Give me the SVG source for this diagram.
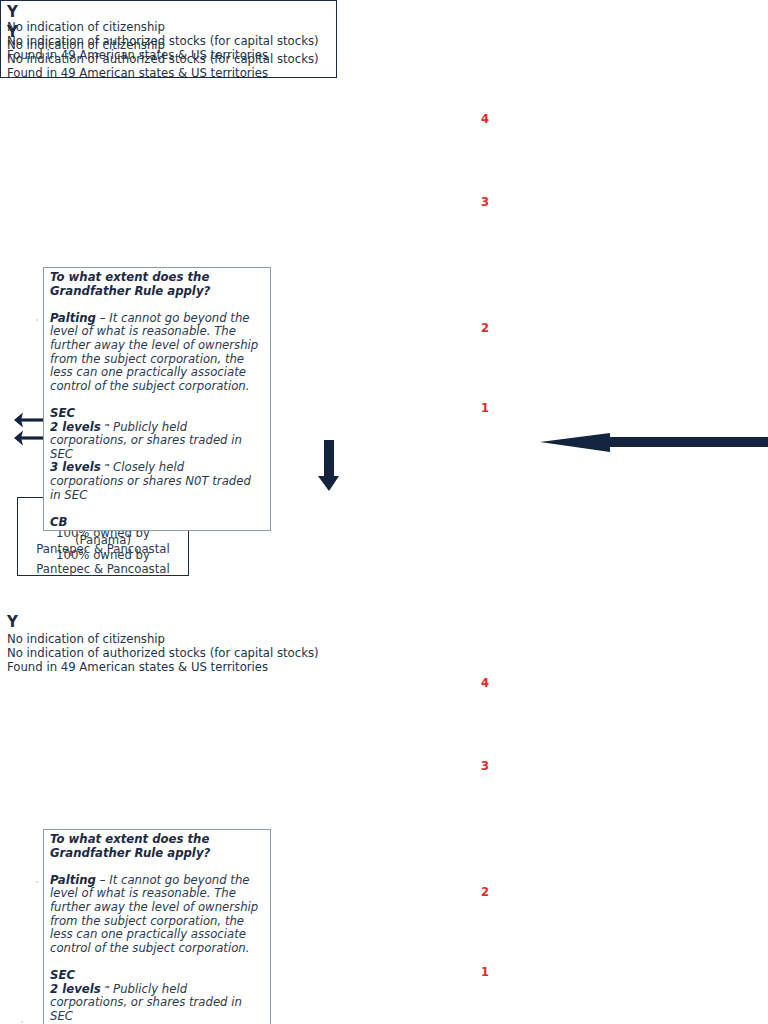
<svg xmlns="http://www.w3.org/2000/svg" width="768" height="1024" viewBox="0 0 768 1024">
<style>
.t{font-family:"DejaVu Sans",Verdana,sans-serif;font-size:11.7px;fill:#22324a}
.y{font-family:"DejaVu Sans",Verdana,sans-serif;font-size:15px;font-weight:bold;fill:#1b2a44}
.c{font-family:"DejaVu Sans",Verdana,sans-serif;font-size:11.7px;font-style:italic;fill:#2a3a50}
.b{font-weight:bold;fill:#1b2a44}
.s{font-size:6px;font-style:normal;font-weight:bold}
.r{font-family:"DejaVu Sans",Verdana,sans-serif;font-size:11.5px;font-weight:bold;fill:#e8262b;text-anchor:middle}
.m{font-family:"DejaVu Sans",Verdana,sans-serif;font-size:11.7px;fill:#2b3a4e;text-anchor:middle}
.box{fill:#fff;stroke:#1b2a44;stroke-width:1}
.call{fill:#fff;stroke:#8a9aa8;stroke-width:1}
.ar{fill:#13243f}
.al{stroke:#13243f;stroke-width:3.2;fill:none}
</style>
<defs>
<clipPath id="topclip"><rect x="0" y="0" width="337" height="77"/></clipPath>
</defs>
<rect width="768" height="1024" fill="#fff"/>

<g id="top-box">
<rect class="box" x="0.5" y="0.5" width="336" height="77"/>
<g clip-path="url(#topclip)">
<text class="y" x="7" y="17">Y</text>
<text class="t" x="7" y="31">No indication of citizenship</text>
<text class="t" x="7" y="45">No indication of authorized stocks (for capital stocks)</text>
<text class="t" x="7" y="59">Found in 49 American states &amp; US territories</text>
<text class="y" x="7" y="37">Y</text>
<text class="t" x="7" y="49">No indication of citizenship</text>
<text class="t" x="7" y="63">No indication of authorized stocks (for capital stocks)</text>
<text class="t" x="7" y="77">Found in 49 American states &amp; US territories</text>
</g>
</g>

<g id="levels-1">
<text class="r" x="485" y="123">4</text>
<text class="r" x="485" y="206">3</text>
<text class="r" x="485" y="332">2</text>
<text class="r" x="485" y="412">1</text>
</g>

<g id="owned-box">
<rect class="box" x="17.5" y="497.5" width="171" height="78"/>
<text class="m" x="103" y="537">100% owned by</text>
<text class="m" x="103" y="544">(Panama)</text>
<text class="m" x="103" y="553">Pantepec &amp; Pancoastal</text>
<text class="m" x="103" y="559">100% owned by</text>
<text class="m" x="103" y="573">Pantepec &amp; Pancoastal</text>
</g>

<g id="callout-1">
<circle cx="37" cy="320" r="0.7" fill="#9aa"/>
<rect class="call" x="43.5" y="267.5" width="227" height="263"/>
<text class="c">
<tspan class="b" x="50" y="281">To what extent does the</tspan>
<tspan class="b" x="50" y="294.6">Grandfather Rule apply?</tspan>
<tspan x="50" y="321.8"><tspan class="b">Palting</tspan> – It cannot go beyond the</tspan>
<tspan x="50" y="335.4">level of what is reasonable. The</tspan>
<tspan x="50" y="349">further away the level of ownership</tspan>
<tspan x="50" y="362.6">from the subject corporation, the</tspan>
<tspan x="50" y="376.2">less can one practically associate</tspan>
<tspan x="50" y="389.8">control of the subject corporation.</tspan>
<tspan class="b" x="50" y="417">SEC</tspan>
<tspan x="50" y="430.6"><tspan class="b">2 levels</tspan> <tspan class="s" dy="-4">⇒</tspan><tspan dy="4"> Publicly held</tspan></tspan>
<tspan x="50" y="444.2">corporations, or shares traded in</tspan>
<tspan x="50" y="457.8">SEC</tspan>
<tspan x="50" y="471.4"><tspan class="b">3 levels</tspan> <tspan class="s" dy="-4">⇒</tspan><tspan dy="4"> Closely held</tspan></tspan>
<tspan x="50" y="485">corporations or shares N0T traded</tspan>
<tspan x="50" y="498.6">in SEC</tspan>
<tspan class="b" x="50" y="525.8">CB</tspan>
</text>
</g>

<g id="connectors">
<line class="al" x1="43" y1="420" x2="20" y2="420"/>
<path class="ar" d="M14,420 L23,412.5 L21,420 L23,427.5 Z"/>
<line class="al" x1="43" y1="438" x2="20" y2="438"/>
<path class="ar" d="M14,438 L23,430.5 L21,438 L23,445.5 Z"/>
<path class="ar" d="M324,440 L334,440 L334,476 L339,476 L329,491 L318,476 L324,476 Z"/>
<path class="ar" d="M540,442 L610,433 L610,437 L768,437 L768,447 L610,447 L610,452 Z"/>
</g>

<g id="page2-text">
<text class="y" x="7" y="627">Y</text>
<text class="t" x="7" y="643">No indication of citizenship</text>
<text class="t" x="7" y="657">No indication of authorized stocks (for capital stocks)</text>
<text class="t" x="7" y="671">Found in 49 American states &amp; US territories</text>
</g>

<g id="levels-2">
<text class="r" x="485" y="687">4</text>
<text class="r" x="485" y="770">3</text>
<text class="r" x="485" y="896">2</text>
<text class="r" x="485" y="976">1</text>
</g>

<g id="callout-2">
<circle cx="37" cy="882" r="0.7" fill="#9aa"/>
<circle cx="22" cy="1022" r="0.7" fill="#9aa"/>
<rect class="call" x="43.5" y="829.5" width="227" height="210"/>
<text class="c">
<tspan class="b" x="50" y="843">To what extent does the</tspan>
<tspan class="b" x="50" y="856.6">Grandfather Rule apply?</tspan>
<tspan x="50" y="883.8"><tspan class="b">Palting</tspan> – It cannot go beyond the</tspan>
<tspan x="50" y="897.4">level of what is reasonable. The</tspan>
<tspan x="50" y="911">further away the level of ownership</tspan>
<tspan x="50" y="924.6">from the subject corporation, the</tspan>
<tspan x="50" y="938.2">less can one practically associate</tspan>
<tspan x="50" y="951.8">control of the subject corporation.</tspan>
<tspan class="b" x="50" y="979">SEC</tspan>
<tspan x="50" y="992.6"><tspan class="b">2 levels</tspan> <tspan class="s" dy="-4">⇒</tspan><tspan dy="4"> Publicly held</tspan></tspan>
<tspan x="50" y="1006.2">corporations, or shares traded in</tspan>
<tspan x="50" y="1019.8">SEC</tspan>
</text>
</g>
</svg>
